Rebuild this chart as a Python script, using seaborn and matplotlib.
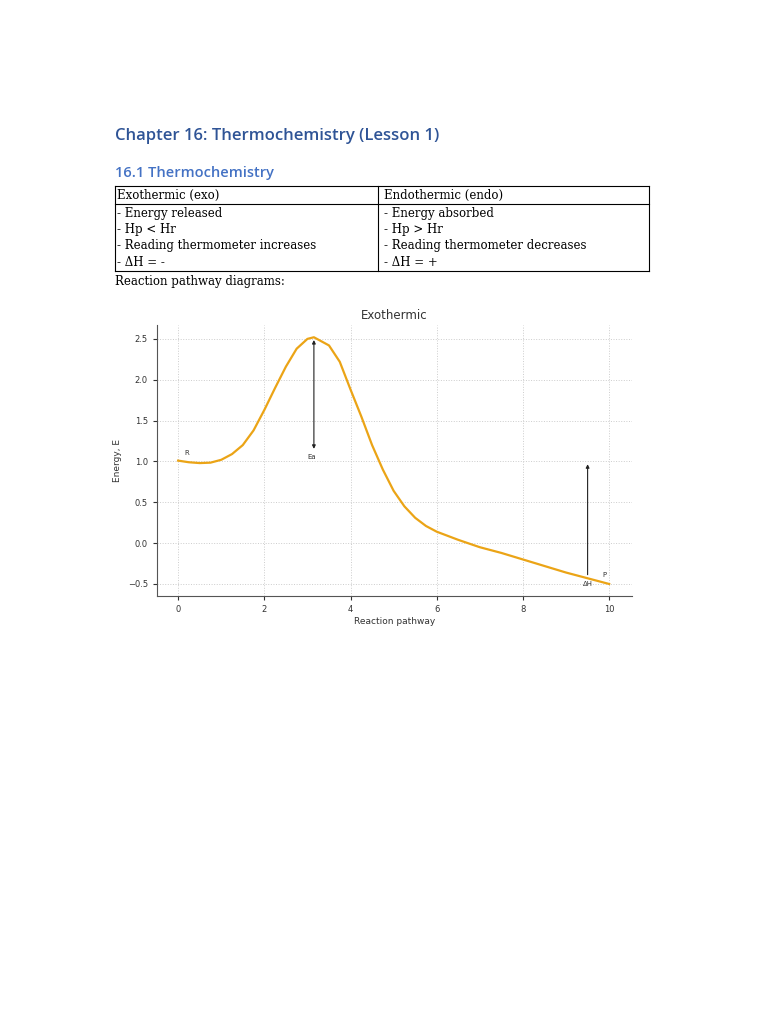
import matplotlib
matplotlib.use("Agg")
import matplotlib.pyplot as plt
import seaborn as sns
import pandas as pd

x_vals = [0, 0.25, 0.5, 0.75, 1, 1.25, 1.5, 1.75, 2, 2.25, 2.5, 2.75, 3, 3.15, 3.5, 3.75, 4, 4.25, 4.5,
          4.75, 5, 5.25, 5.5, 5.75, 6, 6.5, 7, 7.5, 8, 8.5, 9, 9.5, 10]
energy = [1.01, 0.99, 0.98, 0.985, 1.02, 1.09, 1.2, 1.38, 1.63, 1.9, 2.16, 2.38, 2.5, 2.52, 2.42, 2.22,
          1.88, 1.55, 1.2, 0.9, 0.64, 0.45, 0.31, 0.21, 0.14, 0.04, -0.05, -0.12, -0.2, -0.28, -0.36, -0.43, -0.5]

left_col = ["Exothermic (exo)", "- Energy released", "- Hp < Hr", "- Reading thermometer increases", "- ΔH = -"]
right_col = ["Endothermic (endo)", "- Energy absorbed", "- Hp > Hr", "- Reading thermometer decreases", "- ΔH = +"]

W, H = 768, 1024
fig = plt.figure(figsize=(7.68, 10.24), dpi=100)
def fx(p): return p / W
def fy(p): return 1 - p / H

fig.text(fx(115), fy(136), "Chapter 16: Thermochemistry (Lesson 1)", fontsize=12, color="#2F5496",
         family="Open Sans", va="center", fontweight="semibold")
fig.text(fx(115), fy(173), "16.1 Thermochemistry", fontsize=10.5, color="#4472C4",
         family="Open Sans", va="center", fontweight="semibold")

# table lines
for yy in [186, 204, 271]:
    fig.add_artist(plt.Line2D([fx(115), fx(649)], [fy(yy), fy(yy)], color="black", lw=0.8))
for xx in [115, 378, 649]:
    fig.add_artist(plt.Line2D([fx(xx), fx(xx)], [fy(186), fy(271)], color="black", lw=0.8))
row_y = [195, 213, 229, 245, 262]
for i, y in enumerate(row_y):
    fig.text(fx(117), fy(y), left_col[i], fontsize=8.5, family="DejaVu Serif", va="center")
    fig.text(fx(384), fy(y), right_col[i], fontsize=8.5, family="DejaVu Serif", va="center")
fig.text(fx(115), fy(281), "Reaction pathway diagrams:", fontsize=8.5, family="DejaVu Serif", va="center")

ax = fig.add_axes([157 / W, 1 - 596 / H, (632 - 157) / W, (596 - 325) / H])
df = pd.DataFrame({"x": x_vals, "E": energy})
sns.lineplot(data=df, x="x", y="E", ax=ax, color="#EBA416", lw=1.6)
ax.set_xlim(-0.49, 10.53)
ax.set_ylim(-0.647, 2.67)
ax.set_xticks([0, 2, 4, 6, 8, 10])
ax.set_yticks([-0.5, 0, 0.5, 1.0, 1.5, 2.0, 2.5])
ax.tick_params(labelsize=6, colors="#333333", length=3)
ax.grid(True, ls=":", color="#cccccc", lw=0.7)
for s in ["top", "right"]:
    ax.spines[s].set_visible(False)
for s in ["left", "bottom"]:
    ax.spines[s].set_color("#555555")
ax.set_xlabel("Reaction pathway", fontsize=6.5, color="#333333", labelpad=2)
ax.set_ylabel("Energy, E", fontsize=6.5, color="#333333", labelpad=4)
ax.set_title("Exothermic", fontsize=8.5, color="#333333", pad=4)
ax.annotate("", xy=(3.15, 2.52), xytext=(3.15, 1.12),
            arrowprops=dict(arrowstyle="<|-|>", color="#222222", lw=0.8, mutation_scale=5))
ax.annotate("", xy=(9.5, 1.0), xytext=(9.5, -0.42),
            arrowprops=dict(arrowstyle="-|>", color="#222222", lw=0.8, mutation_scale=5))
ax.text(0.15, 1.08, "R", fontsize=5, color="#333333")
ax.text(3.1, 1.05, "Ea", fontsize=5, color="#333333", ha="center", va="center")
ax.text(9.5, -0.5, "ΔH", fontsize=5, color="#333333", ha="center", va="center")
ax.text(9.85, -0.42, "P", fontsize=5, color="#333333")

fig.savefig("out.png", dpi=100)
